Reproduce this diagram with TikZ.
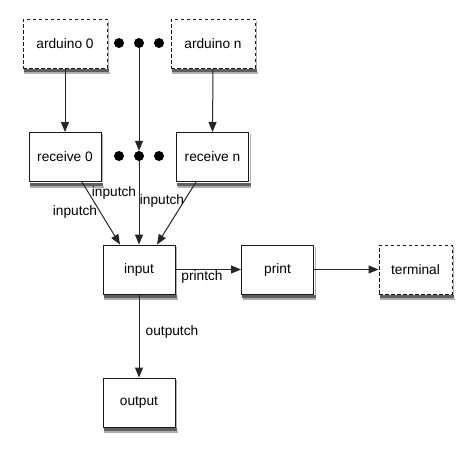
\documentclass[tikz,border=0pt]{standalone}
\usepackage{fontspec}
\setmainfont{Liberation Sans}
\usetikzlibrary{arrows.meta}
\definecolor{shadowgray}{RGB}{95,95,95}
\definecolor{shadowlight}{RGB}{175,175,175}
\begin{document}
\begin{tikzpicture}[x=1pt,y=-1pt,
  txt/.style={font=\fontsize{13.7}{16}\selectfont},
  box/.style={txt, draw=black!90, line width=1pt, fill=white, minimum width=72pt, minimum height=49pt, inner sep=0pt},
  extbox/.style={box, dash pattern=on 3.5pt off 2.5pt},
  dot/.style={circle, fill=black, minimum size=10pt, inner sep=0pt},
  lbl/.style={txt, inner sep=0pt},
  arr/.style={draw=black!85, line width=1pt, -{Triangle[length=10pt,width=8pt]}}]
\useasboundingbox (0,0) rectangle (474,455);
\node[extbox, minimum width=84pt] (a0) at (65,43.5) {arduino 0};
\node[dot] (d1) at (119,43) {};
\node[dot] (d2) at (139,43) {};
\node[dot] (d3) at (159,43) {};
\node[extbox, minimum width=84pt] (an) at (213,43.5) {arduino n};
\node[box] (r0) at (65,157) {receive 0};
\node[dot] (e1) at (119,156) {};
\node[dot] (e2) at (139,156) {};
\node[dot] (e3) at (159,156) {};
\node[box] (rn) at (212.5,157) {receive n};
\node[box] (in) at (139,269.5) {input};
\node[box] (pr) at (277.5,269.5) {print};
\node[extbox, minimum width=73pt] (te) at (415.5,269.5) {terminal};
\node[box] (out) at (139,402.5) {output};
% drop shadows under the bottom edges
\foreach \n in {a0,an,r0,rn,in,pr,te,out}{
  \fill[shadowlight] ([xshift=1.5pt,yshift=-3.5pt]\n.south west) rectangle ([xshift=2pt,yshift=-5.5pt]\n.south east);
  \fill[shadowgray] ([xshift=1pt,yshift=-0.5pt]\n.south west) rectangle ([xshift=1.5pt,yshift=-3.5pt]\n.south east);
  \fill[shadowlight] ([xshift=0.5pt,yshift=-2pt]\n.north east) rectangle ([xshift=1.5pt]\n.south east);
}
\draw[arr] (a0.south) -- (r0.north);
\draw[arr] (an.south) -- (rn.north);
\draw[arr] (d2) -- (e2);
\draw[arr] ([xshift=17pt]r0.south) -- ([xshift=-19pt]in.north);
\draw[arr] (e2) -- (in.north);
\draw[arr] ([xshift=-16.5pt]rn.south) -- ([xshift=18pt]in.north);
\draw[arr] (in.east) -- (pr.west);
\draw[arr] (pr.east) -- (te.west);
\draw[arr] (in.south) -- (out.north);
\node[lbl] (l1) at (75,212) {inputch};
\node[lbl] (l2) at (114,193) {inputch};
\node[lbl] (l3) at (162,201) {inputch};
\node[lbl] (l4) at (202,277) {printch};
\node[lbl] (l5) at (172,332) {outputch};
\end{tikzpicture}
\end{document}
